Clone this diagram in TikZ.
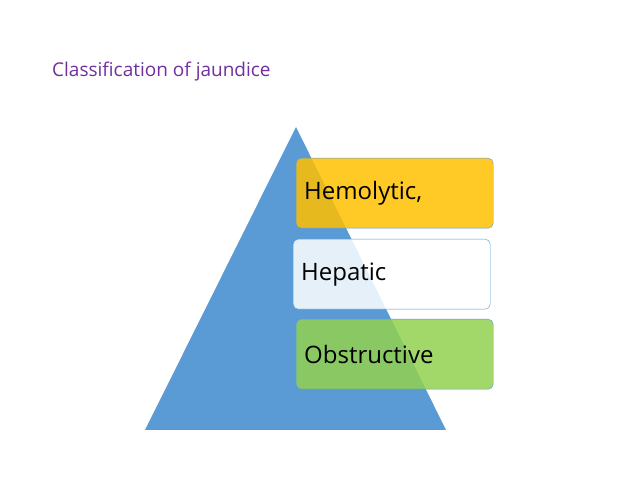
\documentclass[tikz,border=0pt]{standalone}
\usepackage{fontspec}
\setmainfont{Open Sans}
\usepackage{xcolor}
\definecolor{pyramidblue}{HTML}{5B9BD5}
\definecolor{titlepurple}{HTML}{7030A0}
\definecolor{boxgold}{HTML}{FFC000}
\definecolor{boxgreen}{HTML}{92D050}
\begin{document}
\begin{tikzpicture}[x=1pt,y=-1pt]
    \tikzset{Level/.style={%
        draw=pyramidblue,%
        rounded corners=5pt,%
        minimum width=197pt,%
        minimum height=70pt,%
        anchor=north west,%
        text width=181pt,%
        align=left,%
        font=\fontsize{24}{28}\selectfont,%
        fill opacity=0.85,%
        text opacity=1,%
    }}

    \fill[white] (0,0) rectangle (638,478);
    \node[anchor=west, text=titlepurple, font=\fontsize{19}{22}\selectfont, inner sep=0pt] (title) at (52,72) {Classification of jaundice};

    \coordinate (apex) at (296,127);
    \coordinate (baseL) at (145,430);
    \coordinate (baseR) at (446,430);
    \fill[pyramidblue] (apex) -- (baseR) -- (baseL) -- cycle;

    \node[Level, fill=boxgold] (hemolytic) at (296,158) {Hemolytic,};
    \node[Level, fill=white] (hepatic) at (293,239) {Hepatic};
    \node[Level, fill=boxgreen] (obstructive) at (296,319) {Obstructive};
\end{tikzpicture}
\end{document}
